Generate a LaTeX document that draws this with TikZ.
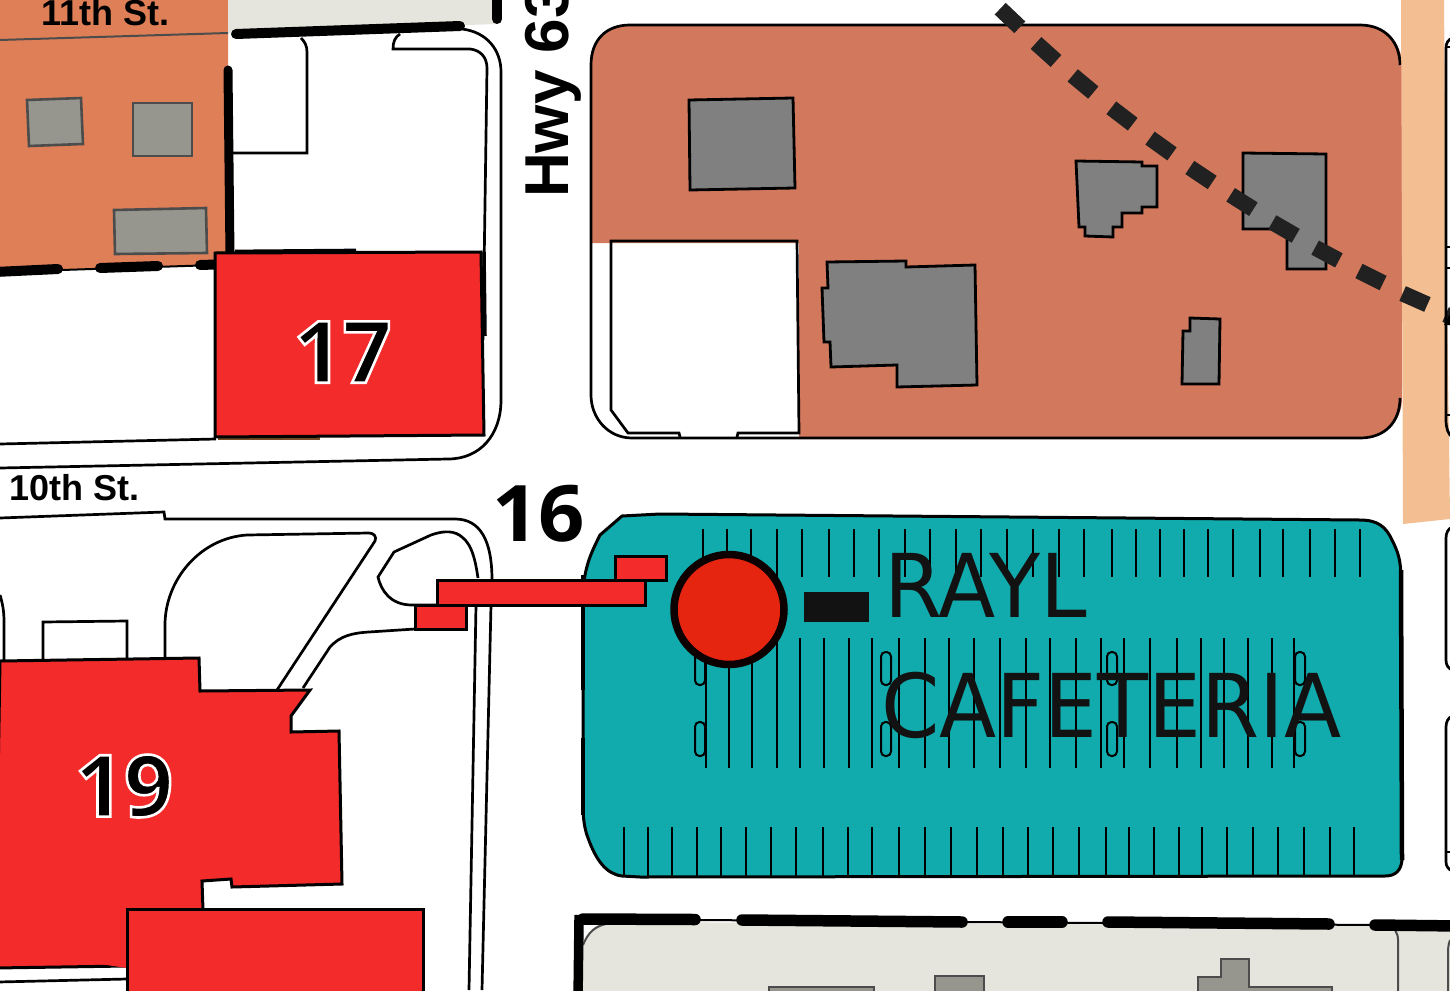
\documentclass[tikz,border=0pt]{standalone}
\usepackage{fontspec}
\setmainfont{Liberation Sans}
\newfontfamily\numfont{Open Sans}
\newfontfamily\rayl{DejaVu Sans}
\newcommand{\outlined}[1]{\special{pdf:code q 1 1 1 RG 2.6 w 2 Tr}#1\special{pdf:code 0 Tr Q}}
\definecolor{oldorange}{HTML}{DF7F58}
\definecolor{brick}{HTML}{D2795D}
\definecolor{beige}{HTML}{E5E5DD}
\definecolor{peach}{HTML}{F3BF92}
\definecolor{teal2}{HTML}{12ABAD}
\definecolor{red2}{HTML}{F42B2B}
\definecolor{red3}{HTML}{E62511}
\definecolor{bgrey}{HTML}{96968E}
\tikzset{
 x=1pt,y=-1pt,
 outline/.style={draw=black,line width=2.7pt,line join=miter},
 bldg/.style={draw=black,fill=black!50,line width=2.8pt},
 paleb/.style={draw=black!70,fill=bgrey,line width=2.6pt},
 redb/.style={draw=black,fill=red2,line width=3pt},
 boundary/.style={black,line width=10pt,line cap=round},
 boundaryB/.style={black,line width=11.5pt,line cap=round},
 thinl/.style={black!70,line width=2pt},
 stall/.style={black,line width=1.7pt},
 raild/.style={draw=black!87,line width=16pt},
 lbl/.style={font=\bfseries\fontsize{36}{36}\selectfont,inner sep=0pt,anchor=base west},
 num/.style={font=\numfont\bfseries\fontsize{86}{86}\selectfont,inner sep=0pt},
 bigt/.style={font=\rayl\fontsize{88}{88}\selectfont,text=black!93,inner sep=0pt,anchor=base west,xscale=.95,transform shape},
 oval/.style={draw=black,line width=2pt,rounded corners=4.5pt},
}
\begin{document}
\begin{tikzpicture}
\useasboundingbox (0,0) rectangle (1450,990);
\begin{scope}
\clip (0,0) rectangle (1450,990);
\fill[white] (0,0) rectangle (1450,990);

% upper left block
\fill[oldorange] (0,0) -- (228,0) -- (228,264) -- (0,272) -- cycle;
\fill[beige] (228,0) -- (500,0) -- (497,24) -- (228,33) -- cycle;
\draw[thinl] (0,40) -- (228,33);
\draw[paleb] (27,100) -- (81,98) -- (83,144) -- (29,146) -- cycle;
\draw[paleb] (133,103) -- (192,103) -- (192,156) -- (133,156) -- cycle;
\draw[paleb] (114,210) -- (206,208) -- (207,253) -- (115,254) -- cycle;
\draw[black,line width=2pt] (0,272) -- (216,265);
\draw[boundary] (-5,272) -- (58,269);
\draw[boundary] (100,268) -- (158,266);
\draw[boundary] (200,265) -- (216,264.5);
\draw[boundary] (236,34) -- (460,26);
\draw[boundary] (497,-5) -- (497,19);
\draw[black,line width=9pt,line cap=round] (228,70) -- (230,256);

% upper left lines
\draw[outline] (301,38) .. controls (305,42) and (307,46) .. (307,52) -- (307,153) -- (232,153);
\draw[outline] (462,29) .. controls (487,32) and (501,50) .. (501,72) -- (501,400)
  .. controls (501,435) and (480,459) .. (448,459) -- (0,468);
\draw[outline] (400,34) .. controls (395,37) and (393,42) .. (393,49) -- (470,49)
  .. controls (480,50) and (487,57) .. (487,68) -- (483,340);
\draw[outline] (0,444) -- (216,439);
\draw[outline] (235,251) -- (356,250);
\draw[black,line width=3.5pt] (484,252) -- (485,336);

% building 17
\fill[black!40!brown] (218,434) rectangle (320,440);
\draw[redb] (215,253) -- (481,252) -- (484,435) -- (215,437) -- cycle;
\node[num] (n17) at (342.5,352) {\outlined{17}};

% labels
\node[lbl] (s11) at (41,26) {11th St.};
\node[lbl] (s10) at (9,500.5) {10th St.};
\node[font=\bfseries\fontsize{62}{62}\selectfont,inner sep=0pt,anchor=base west,rotate=90] (hwy) at (568,198) {Hwy 63};
\node[num,font=\numfont\bfseries\fontsize{78}{78}\selectfont,xscale=1.04,transform shape] (n16) at (538.5,513.5) {16};

% brick block
\fill[brick] (591,243) -- (591,65) .. controls (591,40) and (606,25) .. (630,25) -- (1360,25)
  .. controls (1385,25) and (1402,42) .. (1402,65) -- (1402,398)
  .. controls (1402,422) and (1385,438) .. (1360,438) -- (799,438) -- (799,243) -- cycle;
\draw[outline] (591,243) -- (591,65) .. controls (591,40) and (606,25) .. (630,25) -- (1360,25)
  .. controls (1385,25) and (1400,42) .. (1400,65);
\draw[outline] (1400,398) .. controls (1400,422) and (1385,438) .. (1360,438) -- (632,438)
  .. controls (608,438) and (591,418) .. (591,395) -- (591,243);
\draw[outline] (680,437) -- (679,433) -- (628,433) -- (611,410) -- (611,241) -- (797,241) -- (799,433) -- (738,433) -- (737,437);
\draw[bldg] (689,100) -- (793,98) -- (795,188) -- (690,190) -- cycle;
\draw[bldg] (1076,161) -- (1142,162) -- (1142,166) -- (1157,166) -- (1157,207) -- (1142,207) -- (1142,213) -- (1122,213) -- (1122,227) -- (1113,227) -- (1113,237) -- (1085,236) -- (1085,227) -- (1079,227) -- cycle;
\draw[bldg] (1243,153) -- (1326,154) -- (1326,269) -- (1287,269) -- (1287,229) -- (1243,229) -- cycle;
\draw[bldg] (1190,318) -- (1220,319) -- (1219,384) -- (1182,384) -- (1183,331) -- (1190,331) -- cycle;
\draw[bldg] (827,262) -- (906,261) -- (906,267) -- (975,265) -- (977,385) -- (897,387) -- (897,365) -- (831,367) -- (830,342) -- (824,342) -- (822,288) -- (828,288) -- cycle;

% peach strip
\fill[peach] (1401,0) -- (1444,0) -- (1446,250) -- (1449,440) -- (1450,519) -- (1403,524) -- cycle;

% rail dashes
\foreach \cx/\cy/\dx/\dy in {1010/18/9.8/9.3,1046/52/10/9,1083/84/10.3/8.6,1122/116/10.7/8.2,1161/146/11/7.9,1201/175/11.2/7.5,1242/202/11.4/7.2,1284/229/11.7/6.8,1327/254/11.9/6.4,1371/277/12.1/6,1415/299/12.4/5.5,1458/320/12.4/5.5}
  \draw[raild] (\cx-\dx,\cy-\dy) -- (\cx+\dx,\cy+\dy);

% right edge lines
\draw[outline] (1452,38) .. controls (1448,40) and (1446,43) .. (1446,48) -- (1446,420) .. controls (1446,428) and (1448,434) .. (1452,437);
\draw[outline,line width=2pt] (1446,47) -- (1452,47) (1446,247) -- (1452,247) (1446,268) -- (1452,268) (1446,415) -- (1452,415);
\fill[black] (1451,312) -- (1444,325) -- (1451,325) -- cycle;
\draw[outline] (1452,527) .. controls (1448,529) and (1446,533) .. (1446,538) -- (1446,660) .. controls (1446,665) and (1448,668) .. (1452,670);
\draw[outline] (1452,716) .. controls (1448,718) and (1446,722) .. (1446,727) -- (1446,862) .. controls (1446,866) and (1448,869) .. (1452,871);
\draw[outline] (1446,852) -- (1452,852);

% teal lot
\path[fill=teal2,draw=black,line width=3pt] (622,516) -- (660,514) -- (1360,520) .. controls (1378,520) and (1386,527) .. (1392,540)
  .. controls (1398,552) and (1401,560) .. (1401,580) -- (1402,860) .. controls (1401,870) and (1396,876) .. (1385,876)
  -- (640,877) -- (622,876) .. controls (606,874) and (596,860) .. (588,838) .. controls (583,825) and (583,812) .. (583,800)
  -- (583,600) .. controls (583,570) and (590,555) .. (600,535) -- cycle;
\draw[black,line width=4.5pt] (1401,570) -- (1402,860);
\draw[black,line width=4.5pt] (583,738) -- (583,815);
\draw[black,line width=4.5pt] (583,575) -- (583,690);

% stalls
\foreach \x in {703,727,751,777,802,829,854,879,905,930,956,981,1007,1033,1059,1084,1112,1136,1160,1184,1208,1233,1260,1283,1310,1335,1360}
  \draw[stall] (\x,529) -- (\x,577);
\foreach \x in {706,729,752,777,800,824,849,872,899,925,949,974,1000,1026,1050,1076,1101,1124,1150,1177,1201,1224,1248,1272,1294}
  \draw[stall] (\x,638) -- (\x,768);
\foreach \x in {624,648,672,697,721,746,771,796,823,848,872,899,925,951,977,1003,1028,1053,1079,1106,1129,1154,1179,1202,1227,1253,1278,1304,1330,1354}
  \draw[stall] (\x,827) -- (\x,876);
\foreach \x in {700,886,1112,1300}{
  \draw[oval] (\x-5,722) rectangle (\x+5,756);
  \draw[oval] (\x-5,652) rectangle (\x+5,685);
}

% connector boxes
\draw[redb] (615,556) rectangle (666,580);
\draw[redb] (415,605) rectangle (466,629);
\draw[outline] (478,578) .. controls (476,565) and (473,545) .. (462,537) .. controls (455,531) and (445,530) .. (431,535)
  -- (394,552) -- (378,577) .. controls (381,590) and (390,605) .. (412,605) -- (438,605);
\draw[outline] (0,518) -- (164,512) -- (165,519) -- (455,519) .. controls (480,519) and (492,540) .. (492,580);
\draw[outline] (476,605) -- (469,990);
\draw[outline] (491,605) -- (482,990);
\draw[redb] (437,580) -- (645,580) -- (645,605) -- (437,605) -- cycle;

% circle and marker
\draw[draw=black!95!red,fill=red3,line width=7.5pt] (729,609.5) circle[radius=55];
\fill[black!93] (804,592) rectangle (869,622);
\node[bigt] (rayl) at (884,617) {RAYL};
\node[bigt] (cafe) at (881,737) {CAFETERIA};

% lower left lines
\draw[outline] (277,690) -- (375,541) .. controls (377,537) and (374,533) .. (369,533) -- (247,535)
  .. controls (200,538) and (165,580) .. (165,625) -- (165,660);
\draw[outline] (43,660) -- (43,622) -- (127,621) -- (127,660);
\draw[outline] (0,595) .. controls (3,605) and (4,612) .. (4,622) -- (4,662);
\draw[outline] (303,688) -- (330,647) .. controls (340,636) and (352,633) .. (369,632) -- (415,629);
\draw[redb] (0,661) -- (199,658) -- (200,691) -- (310,690) -- (291,716) -- (291,732) -- (339,731) -- (342,884) -- (232,887) -- (231,879) -- (202,881) -- (203,910) -- (126,966) -- (-5,968) -- cycle;
\fill[red2] (127,905) -- (201,905) -- (201,912) -- (127,968) -- (100,964) -- cycle;
\draw[outline] (-2,982) -- (127,979);
\draw[redb] (127,909) -- (423,909) -- (423,995) -- (127,995) -- cycle;
\node[num] (n19) at (124,786) {\outlined{19}};

% bottom block
\fill[beige] (583,945) .. controls (588,930) and (595,925) .. (606,922) -- (1455,926) -- (1455,995) -- (583,995) -- cycle;
\draw[thinl] (583,945) .. controls (588,932) and (596,926) .. (606,924);
\draw[thinl] (1395,930) .. controls (1397,933) and (1398,936) .. (1398,940) -- (1398,995);
\draw[thinl] (1450,940) .. controls (1448,945) and (1448,950) .. (1448,955) -- (1448,995);
\draw[paleb] (769,987) -- (874,987) -- (874,1000) -- (769,1000) -- cycle;
\draw[paleb] (935,976) -- (984,976) -- (984,1000) -- (935,1000) -- cycle;
\draw[paleb] (1198,1000) -- (1198,977) -- (1221,977) -- (1221,959) -- (1249,959) -- (1249,987) -- (1332,987) -- (1332,1000) -- cycle;
\draw[black,line width=2pt] (700,920) -- (1372,925);
\draw[boundaryB] (583,919) -- (695,919.5);
\draw[boundaryB] (742,920) -- (962,922);
\draw[boundaryB] (1008,922) -- (1062,922);
\draw[boundaryB] (1108,922) -- (1329,924);
\draw[boundaryB] (1375,925) -- (1460,926);
\draw[black,line width=9.5pt,line join=miter] (578,1000) -- (579,919.5) -- (600,919.5);
\end{scope}
\end{tikzpicture}
\end{document}
